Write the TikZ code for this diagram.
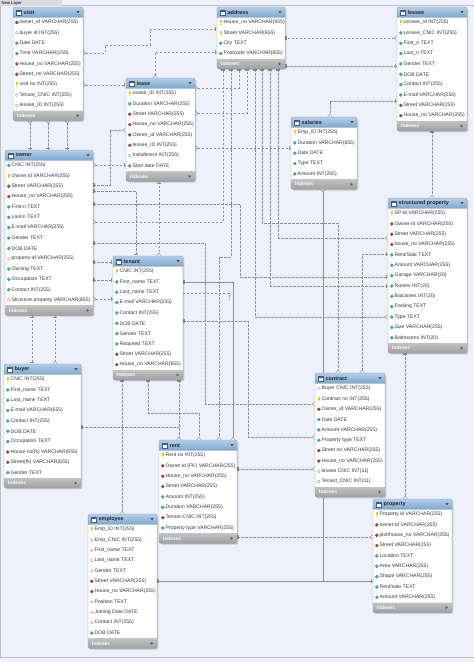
\documentclass[tikz,border=0pt]{standalone}
\usepackage{fontspec}
\setmainfont{Liberation Sans}
\usetikzlibrary{arrows.meta,fit}
\definecolor{bg}{HTML}{EEF1F9}
\definecolor{ttop}{HTML}{B3CEE8}
\definecolor{tbot}{HTML}{7DA7CF}
\definecolor{framec}{HTML}{8AA6C1}
\definecolor{itop}{HTML}{C2C2C2}
\definecolor{ibot}{HTML}{A0A0A0}
\definecolor{keyc}{HTML}{F2C21E}
\definecolor{tealc}{HTML}{3DB5B0}
\definecolor{fkc}{HTML}{B04A35}
\definecolor{txtc}{HTML}{383838}
\definecolor{linec}{HTML}{8E8E8E}
\newcounter{rowi}
\newcommand\iconk[2]{\fill[keyc] (#1-0.8,#2-2.2) rectangle (#1+0.8,#2+0.7); \fill[keyc] (#1,#2+1.7) circle (0.75);}
\newcommand\icont[2]{\filldraw[fill=tealc,draw=tealc!70!black,line width=0.2pt] (#1,#2-1.6)--(#1+1.6,#2)--(#1,#2+1.6)--(#1-1.6,#2)--cycle;}
\newcommand\iconr[2]{\filldraw[fill=fkc,draw=fkc!70!black,line width=0.2pt] (#1,#2-1.6)--(#1+1.6,#2)--(#1,#2+1.6)--(#1-1.6,#2)--cycle;}
\newcommand\iconw[2]{\filldraw[fill=white,draw=black!45,line width=0.25pt] (#1,#2-1.5)--(#1+1.5,#2)--(#1,#2+1.5)--(#1-1.5,#2)--cycle;}
\newcommand\tabframe[6]{%
 \def\tX{#2}\def\tT{#3}\setcounter{rowi}{0}%
 \pgfmathsetmacro\tR{#2+#4}%
 \pgfmathsetmacro\tB{#3+10.5+#6*10.35}%
 \pgfmathsetmacro\tBot{\tB+10}%
 \fill[black,opacity=0.16,rounded corners=2pt] (#2+1.3,#3+1.3) rectangle (\tR+1.3,\tBot+1.3);
 \fill[white] (#2,#3+10) rectangle (\tR,\tB);
 \shade[top color=ttop,bottom color=tbot] (#2,#3+10.5) [rounded corners=2pt] -- (#2,#3) -- (\tR,#3) [sharp corners] -- (\tR,#3+10.5) -- cycle;
 \shade[top color=itop,bottom color=ibot] (#2,\tB) [rounded corners=2pt] -- (#2,\tBot) -- (\tR,\tBot) [sharp corners] -- (\tR,\tB) -- cycle;
 \draw[framec,line width=0.4pt,rounded corners=2pt] (#2,#3) rectangle (\tR,\tBot);
 \filldraw[fill=white,draw=tbot!55!black,line width=0.3pt] (#2+3,#3+2.8) rectangle (#2+8.5,#3+8);
 \draw[tbot!55!black,line width=0.3pt] (#2+3,#3+4.3) -- (#2+8.5,#3+4.3);
 \node[font=\bfseries\fontsize{5.4}{6}\selectfont,text=black!85,anchor=west,inner sep=0] at (#2+10.5,#3+5.4) {#5};
 \fill[black!70] (\tR-6.5,#3+4.2) -- (\tR-3.5,#3+4.2) -- (\tR-5,#3+6.4) -- cycle;
 \node[font=\bfseries\fontsize{4.8}{5}\selectfont,text=white,anchor=west,inner sep=0] at (#2+4,\tB+5) {Indexes};
 \fill[black!65] (\tR-6.5,\tB+3.4) -- (\tR-6.5,\tB+6.6) -- (\tR-4,\tB+5) -- cycle;
}
\newcommand\tabname[5]{%
 \pgfmathsetmacro\tR{#2+#4}%
 \pgfmathsetmacro\tBot{#3+20.5+#5*10.35}%
 \coordinate (#1-nw) at (#2,#3); \coordinate (#1-se) at (\tR,\tBot);
 \node[fit=(#1-nw)(#1-se),inner sep=0,outer sep=0] (#1) {};
}
\newcommand\trow[2]{\stepcounter{rowi}%
 \pgfmathsetmacro\rY{\tT+15.5+(\therowi-1)*10.35}%
 \pgfmathsetmacro\iX{\tX+3.8}%
 \csname icon#1\endcsname{\iX}{\rY}%
 \node[rowtext] at (\tX+6.4,\rY) {#2};}
\tikzset{
 rowtext/.style={font=\fontsize{5.1}{5.5}\selectfont,text=txtc,anchor=west,inner sep=0},
 conn/.style={draw=linec,line width=0.4pt,dash pattern=on 2.4pt off 1.6pt},
 sconn/.style={draw=linec,line width=0.45pt},
 cf/.tip={Straight Barb[reversed,length=2.6pt,width=4.6pt,line width=0.4pt]},
 ob/.tip={Bar[width=4.2pt,line width=0.4pt,sep=0.9pt]Bar[width=4.2pt,line width=0.4pt]}
}
\begin{document}
\begin{tikzpicture}[x=1pt,y=-1pt]
\useasboundingbox (0,0) rectangle (474,662);
\fill[bg] (0,0) rectangle (474,662);
\draw[black!25,line width=0.4pt] (0.3,5.5) rectangle (473.7,657);
\fill[black!14] (0,0) rectangle (62,5.5);
\node[font=\fontsize{4.2}{4.5}\selectfont,anchor=west,inner sep=0] (layer) at (1.5,3) {New Layer};
% ---------- table names (geometry only) ----------
\tabname{visit}{13}{7}{70}{9}
\tabname{address}{217}{7}{68}{4}
\tabname{lease}{126}{78}{69}{8}
\tabname{lessee}{397}{7}{70}{10}
\tabname{owner}{5}{150}{88}{14}
\tabname{salaries}{291}{117}{66}{5}
\tabname{sp}{388}{198}{79}{13}
\tabname{tenant}{113}{256}{70}{10}
\tabname{buyer}{4}{364}{77}{10}
\tabname{contract}{315}{373}{70}{10}
\tabname{rent}{159}{440}{78}{8}
\tabname{employee}{88}{514}{69}{11}
\tabname{property}{373}{499}{79}{9}
% ---------- connectors ----------
\draw[conn,arrows=cf-ob] (visit.east |- 0,53) -- (105,53) -- (105,45) -- (150,45) -- (150,29) -- (address.west |- 0,29);
\draw[conn,arrows=cf-ob] (lease.north -| 155,0) -- (155,52) -- (address.west |- 0,52);
\draw[conn,arrows=cf-ob] (visit.east |- 0,85) -- (lease.west |- 0,85);
\draw[conn,arrows=cf-ob] (lease.east |- 0,88) -- (239,88) -- (address.south -| 239,0);
\draw[conn,arrows=cf-ob] (lease.east |- 0,113) -- (247,113) -- (address.south -| 247,0);
\draw[conn,arrows=cf-ob] (lease.east |- 0,148) -- (salaries.west |- 0,148);
\draw[conn,arrows=cf-ob] (lessee.west |- 0,38) -- (address.east |- 0,38);
\draw[conn,arrows=ob-ob] (lessee.west |- 0,66) -- (address.east |- 0,66);
\draw[conn,arrows=ob-cf] (lessee.west |- 0,101) -- (330,101) -- (salaries.north -| 330,0);
\draw[conn,arrows=ob-cf] (lessee.south -| 432,0) -- (sp.north -| 432,0);
\draw[conn,arrows=ob-cf] (sp.south -| 405,0) -- (property.north -| 405,0);
\draw[conn,arrows=cf-ob] (owner.east |- 0,165) -- (lease.west |- 0,165);
\draw[conn,arrows=ob-cf] (owner.east |- 0,185) -- (110,185) -- (110,130) -- (lease.west |- 0,130);
\draw[conn,arrows=ob-ob] (owner.east |- 0,191) -- (136,191) -- (tenant.north -| 136,0);
\draw[conn,arrows=ob-cf] (lease.south -| 159,0) -- (tenant.north -| 159,0);
\draw[conn,arrows=ob-ob] (owner.east |- 0,204) -- (240,204) -- (240,277) -- (sp.west |- 0,277);
\draw[conn,arrows=cf-ob] (owner.east |- 0,222) -- (223,222) -- (address.south -| 223,0);
\draw[conn,arrows=ob-cf] (owner.east |- 0,243) -- (205,243) -- (205,404) -- (contract.west |- 0,404);
\draw[conn,arrows=ob-ob] (owner.east |- 0,262) -- (tenant.west |- 0,262);
\draw[conn,arrows=ob-ob] (owner.east |- 0,280) -- (tenant.west |- 0,280);
\draw[conn,arrows=cf-ob] (owner.east |- 0,299) -- (tenant.west |- 0,299);
\draw[conn,arrows=ob-cf] (address.south -| 231,0) -- (231,257) -- (219,257) -- (rent.north -| 219,0);
\draw[conn,arrows=ob-cf] (address.south -| 255,0) -- (255,317) -- (sp.west |- 0,317);
\draw[conn,arrows=ob-cf] (address.south -| 262,0) -- (262,223) -- (338,223) -- (contract.north -| 338,0);
\draw[conn,arrows=ob-ob] (address.south -| 270,0) -- (270,286) -- (sp.west |- 0,286);
\draw[conn,arrows=ob-cf] (address.south -| 278,0) -- (278,238) -- (sp.west |- 0,238);
\draw[conn,arrows=ob-cf] (sp.west |- 0,254) -- (362,254) -- (contract.north -| 362,0);
\draw[conn] (tenant.east |- 0,293) -- (229,293) -- (229,300);
\draw[sconn,arrows=ob-cf] (tenant.east |- 0,282) -- (233,282) -- (rent.north -| 233,0);
\draw[conn,arrows=ob-cf] (tenant.east |- 0,321) -- (248,321) -- (248,437) -- (contract.west |- 0,437);
\draw[conn,arrows=ob-cf] (tenant.south -| 179,0) -- (rent.north -| 179,0);
\draw[conn,arrows=ob-] (buyer.east |- 0,427) -- (179,427);
\draw[conn,arrows=ob-cf] (tenant.south -| 148,0) -- (148,413) -- (199,413) -- (rent.north -| 199,0);
\draw[conn,arrows=ob-cf] (tenant.south -| 122,0) -- (employee.north -| 122,0);
\draw[conn,arrows=ob-cf] (rent.east |- 0,469) -- (contract.west |- 0,469);
\draw[conn,arrows=ob-cf] (rent.east |- 0,537) -- (property.west |- 0,537);
\draw[sconn,arrows=cf-ob] (salaries.south -| 323,0) -- (323,581) -- (employee.east |- 0,581);
\draw[sconn,arrows=ob-] (property.west |- 0,581) -- (323,581);
\draw[conn,arrows=cf-ob] (visit.south -| 30,0) -- (owner.north -| 30,0);
\draw[conn,arrows=cf-ob] (visit.south -| 48,0) -- (owner.north -| 48,0);
\draw[conn,arrows=cf-ob] (visit.south -| 67,0) -- (owner.north -| 67,0);
\draw[conn,arrows=ob-ob] (owner.south -| 32,0) -- (buyer.north -| 32,0);
\draw[conn,arrows=ob-cf] (owner.south -| 55,0) -- (buyer.north -| 55,0);
% ---------- tables ----------
\tabframe{visit}{13}{7}{70}{visit}{9}
\trow{r}{owner\_id VARCHAR(255)}
\trow{w}{buyer id INT(255)}
\trow{t}{Date DATE}
\trow{t}{Time VARCHAR(255)}
\trow{r}{House\_no VARCHAR(255)}
\trow{r}{Street\_no VARCHAR(255)}
\trow{k}{visit no INT(255)}
\trow{w}{Tenant\_CNIC INT(255)}
\trow{w}{lessee\_ID INT(255)}
\tabframe{address}{217}{7}{68}{address}{4}
\trow{k}{House\_no VARCHAR(655)}
\trow{k}{Street VARCHAR(655)}
\trow{t}{City TEXT}
\trow{t}{Postcode VARCHAR(655)}
\tabframe{lease}{126}{78}{69}{lease}{8}
\trow{k}{Lease\_ID INT(255)}
\trow{t}{Duration VARCHAR(255)}
\trow{r}{Street VARCHAR(255)}
\trow{r}{House\_no VARCHAR(255)}
\trow{r}{Owner\_id VARCHAR(255)}
\trow{r}{lessee\_ID INT(255)}
\trow{w}{Installment INT(255)}
\trow{t}{Start date DATE}
\tabframe{lessee}{397}{7}{70}{lessee}{10}
\trow{k}{Lessee\_id INT(255)}
\trow{t}{Lessee\_CNIC INT(255)}
\trow{t}{First\_n TEXT}
\trow{t}{Last\_n TEXT}
\trow{t}{Gender TEXT}
\trow{t}{DOB DATE}
\trow{t}{Contact INT(255)}
\trow{t}{E-mail VARCHAR(255)}
\trow{r}{Street VARCHAR(255)}
\trow{r}{House\_no VARCHAR(255)}
\tabframe{owner}{5}{150}{88}{owner}{14}
\trow{t}{CNIC INT(255)}
\trow{k}{Owner id VARCHAR(255)}
\trow{r}{Street VARCHAR(255)}
\trow{r}{House\_no VARCHAR(255)}
\trow{t}{First-n TEXT}
\trow{t}{Last-n TEXT}
\trow{t}{E-mail VARCHAR(255)}
\trow{t}{Gender TEXT}
\trow{t}{DOB DATE}
\trow{w}{property-id VARCHAR(255)}
\trow{t}{Owning TEXT}
\trow{t}{Occupation TEXT}
\trow{t}{Contact INT(255)}
\trow{w}{Structure property VARCHAR(655)}
\tabframe{salaries}{291}{117}{66}{salaries}{5}
\trow{k}{Emp\_ID INT(255)}
\trow{t}{Duration VARCHAR(655)}
\trow{t}{Date DATE}
\trow{t}{Type TEXT}
\trow{t}{Amount INT(255)}
\tabframe{sp}{388}{198}{79}{structured property}{13}
\trow{k}{SP-id VARCHAR(255)}
\trow{r}{Owner-id VARCHAR(255)}
\trow{r}{Street VARCHAR(255)}
\trow{r}{house\_no VARCHAR(255)}
\trow{t}{Rent/Sale TEXT}
\trow{t}{Amount VARCHAR(255)}
\trow{t}{Garage VARCHAR(20)}
\trow{t}{Rooms INT(20)}
\trow{t}{Balconies INT(20)}
\trow{t}{Parking TEXT}
\trow{t}{Type TEXT}
\trow{t}{Size VARCHAR(255)}
\trow{t}{Bathrooms INT(20)}
\tabframe{tenant}{113}{256}{70}{tenant}{10}
\trow{k}{CNIC INT(255)}
\trow{t}{First\_name TEXT}
\trow{t}{Last\_name TEXT}
\trow{t}{E-mail VARCHAR(255)}
\trow{t}{Contact INT(255)}
\trow{t}{DOB DATE}
\trow{t}{Gender TEXT}
\trow{t}{Required TEXT}
\trow{r}{Street VARCHAR(255)}
\trow{r}{House\_no VARCHAR(655)}
\tabframe{buyer}{4}{364}{77}{buyer}{10}
\trow{k}{CNIC INT(255)}
\trow{t}{First\_name TEXT}
\trow{t}{Last\_name TEXT}
\trow{t}{E-mail VARCHAR(655)}
\trow{t}{Contact INT(255)}
\trow{t}{DOB DATE}
\trow{t}{Occupation TEXT}
\trow{r}{House no(fk) VARCHAR(655)}
\trow{r}{Street(fk) VARCHAR(655)}
\trow{t}{Gender TEXT}
\tabframe{contract}{315}{373}{70}{contract}{10}
\trow{w}{Buyer CNIC INT(255)}
\trow{k}{Contract no INT(255)}
\trow{r}{Owner\_id VARCHAR(255)}
\trow{t}{Date DATE}
\trow{t}{Amount VARCHAR(255)}
\trow{t}{Property type TEXT}
\trow{r}{Street no VARCHAR(255)}
\trow{r}{House\_no VARCHAR(255)}
\trow{w}{lessee CNIC INT(11)}
\trow{w}{Tenant\_CNIC INT(11)}
\tabframe{rent}{159}{440}{78}{rent}{8}
\trow{k}{Rent no INT(255)}
\trow{r}{Owner id (FK) VARCHAR(255)}
\trow{r}{House\_no VARCHAR(255)}
\trow{r}{Street VARCHAR(255)}
\trow{t}{Amount INT(255)}
\trow{t}{Duration VARCHAR(255)}
\trow{r}{Tenant-CNIC INT(255)}
\trow{t}{Property type VARCHAR(255)}
\tabframe{employee}{88}{514}{69}{employee}{11}
\trow{k}{Emp\_ID INT(255)}
\trow{w}{Emp\_CNIC INT(255)}
\trow{w}{First\_name TEXT}
\trow{w}{Last\_name TEXT}
\trow{w}{Gender TEXT}
\trow{r}{Street VARCHAR(255)}
\trow{r}{House\_no VARCHAR(255)}
\trow{w}{Position TEXT}
\trow{w}{Joining Date DATE}
\trow{w}{Contact INT(255)}
\trow{t}{DOB DATE}
\tabframe{property}{373}{499}{79}{property}{9}
\trow{k}{Property id VARCHAR(255)}
\trow{r}{owner-id VARCHAR(255)}
\trow{r}{plot/house\_no VARCHAR(255)}
\trow{r}{Street VARCHAR(255)}
\trow{t}{Location TEXT}
\trow{t}{Area VARCHAR(255)}
\trow{t}{Shape VARCHAR(255)}
\trow{t}{Rent/sale TEXT}
\trow{t}{Amount VARCHAR(255)}
\end{tikzpicture}
\end{document}
